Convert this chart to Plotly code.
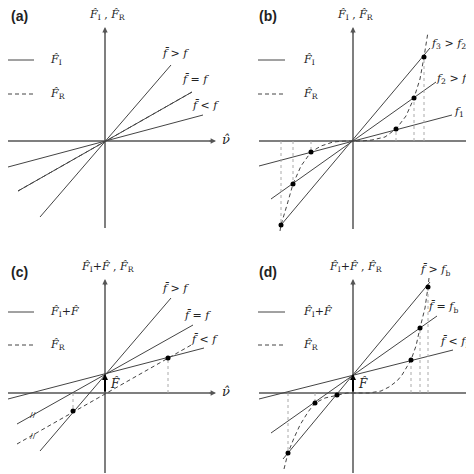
import plotly.graph_objects as go
from plotly.subplots import make_subplots

# all values in panel units (1 unit ~ 1 px), origin at axes crossing
# panel (a)
a_lines_x = [[-65, 66], [-87, 87], [-97, 98]]
a_lines_y = [[-76, 76], [-50, 49], [-26, 26]]
a_dash_x = [-87, 87]
a_dash_y = [-50, 49]
a_labels = ["<i>f̄</i> > <i>f</i>", "<i>f̄</i> = <i>f</i>", "<i>f̄</i> < <i>f</i>"]
a_label_x = [70, 90, 100]
a_label_y = [88, 62, 36]

# panel (b)
b_lines_x = [[-72, 77], [-82, 83], [-94, 99]]
b_lines_y = [[-84, 93], [-58, 59], [-25, 26]]
b_curve_x = [-73, -72, -66, -60, -52, -42, -32, -20, -8, 0, 8, 19, 32, 43, 53, 61, 67, 71, 75]
b_curve_y = [-90, -84, -64, -43, -25, -11, -5, -1, 0, 0, 0, 1, 4, 12, 25, 43, 62, 84, 109]
b_dot_x = [43, 61, 71, -42, -60, -72]
b_dot_y = [12, 43, 84, -11, -43, -84]
b_labels = ["<i>f</i><sub>3</sub> > <i>f</i><sub>2</sub>", "<i>f</i><sub>2</sub> > <i>f</i><sub>1</sub>", "<i>f</i><sub>1</sub>"]
b_label_x = [95, 100, 106]
b_label_y = [97, 62, 29]

# panel (c)
F_hat = 19
c_lines_x = [[-65, 66], [-88, 88], [-97, 99]]
c_lines_y = [[-58, 95], [-31, 68], [-6, 45]]
c_dash_x = [-88, 88]
c_dash_y = [-51, 49]
c_dot_x = [63, -32]
c_dot_y = [35, -18]
c_labels = a_labels
c_label_x = [70, 92, 99]
c_label_y = [105, 78, 54]

# panel (d)
d_lines_x = [[-70, 77], [-82, 84], [-94, 100]]
d_lines_y = [[-66, 111], [-40, 77], [-6, 43]]
d_curve_x = [-69, -65, -59, -53, -45, -38, -28, -16, -6, 0, 6, 16, 28, 36, 44, 49, 58, 63, 67, 72, 75, 76]
d_curve_y = [-76, -60, -45, -32, -19, -10, -5, -2, 0, 0, 0, 0, 2, 6, 12, 18, 33, 47, 65, 85, 106, 115]
d_dot_x = [58, 67, 75, -16, -38, -65]
d_dot_y = [33, 65, 106, -2, -10, -60]
d_labels = ["<i>f̄</i> > <i>f</i><sub>b</sub>", "<i>f̄</i> = <i>f</i><sub>b</sub>", "<i>f̄</i> < <i>f</i><sub>b</sub>"]
d_label_x = [82, 90, 102]
d_label_y = [123, 86, 51]

panel_names = ["(a)", "(b)", "(c)", "(d)"]
y_titles = ["<i>F̂</i><sub>I</sub> , <i>F̂</i><sub>R</sub>", "<i>F̂</i><sub>I</sub> , <i>F̂</i><sub>R</sub>",
            "<i>F̂</i><sub>I</sub>+<i>F̂</i> , <i>F̂</i><sub>R</sub>", "<i>F̂</i><sub>I</sub>+<i>F̂</i> , <i>F̂</i><sub>R</sub>"]
leg_solid = ["<i>F̂</i><sub>I</sub>", "<i>F̂</i><sub>I</sub>", "<i>F̂</i><sub>I</sub>+<i>F̂</i>", "<i>F̂</i><sub>I</sub>+<i>F̂</i>"]
leg_dash = "<i>F̂</i><sub>R</sub>"

# axis ranges (px) and axis extents per panel
x_ranges = [[-97, 140], [-108, 129], [-97, 140], [-108, 129]]
y_ranges = [[-104, 133], [-104, 133], [-89, 148], [-89, 148]]
ax_x = [[-97, 107], [-94, 125], [-97, 107], [-94, 125]]
ax_y = [[-87, 110], [-88, 110], [-80, 110], [-80, 110]]
leg_y = [[81, 47], [81, 47], [81, 48], [81, 48]]

LC = "#444"
SERIF = "DejaVu Serif"
DASH = "4px,3px"

fig = make_subplots(rows=2, cols=2, horizontal_spacing=0, vertical_spacing=0)
pos = [(1, 1), (1, 2), (2, 1), (2, 2)]


def line(x, y, r, c, dash="solid", color=LC, width=1):
    fig.add_trace(go.Scatter(x=x, y=y, mode="lines", line=dict(color=color, width=width, dash=dash),
                             showlegend=False, hoverinfo="skip"), row=r, col=c)


def dots(x, y, r, c):
    for xi, yi in zip(x, y):
        line([xi, xi], [0, yi], r, c, dash="dot", color="#aaa", width=1)
    fig.add_trace(go.Scatter(x=x, y=y, mode="markers", marker=dict(color="black", size=5),
                             showlegend=False, hoverinfo="skip"), row=r, col=c)


def text(t, x, y, i, size=11, xanchor="left", font=SERIF):
    n = "" if i == 0 else str(i + 1)
    fig.add_annotation(text=t, x=x, y=y, xref="x" + n, yref="y" + n, showarrow=False,
                       xanchor=xanchor, font=dict(family=font, size=size, color="#222"))


for i, (r, c) in enumerate(pos):
    n = "" if i == 0 else str(i + 1)
    # axes with arrows
    line(ax_x[i], [0, 0], r, c, color="#555", width=1.5)
    line([0, 0], ax_y[i], r, c, color="#555", width=1.5)
    fig.add_annotation(x=ax_x[i][1] + 4, y=0, ax=ax_x[i][1] - 4, ay=0, xref="x" + n, yref="y" + n,
                       axref="x" + n, ayref="y" + n, showarrow=True, arrowhead=2, arrowsize=0.9,
                       arrowwidth=1.2, arrowcolor="#555", text="")
    fig.add_annotation(x=0, y=ax_y[i][1] + 4, ax=0, ay=ax_y[i][1] - 4, xref="x" + n, yref="y" + n,
                       axref="x" + n, ayref="y" + n, showarrow=True, arrowhead=2, arrowsize=0.9,
                       arrowwidth=1.2, arrowcolor="#555", text="")
    text(y_titles[i], 2, ax_y[i][1] + 16, i, xanchor="center")
    text("<i>ν̂</i>", ax_x[i][1] + 8, 2, i, size=13)
    # legend
    x0 = x_ranges[i][0]
    seg = [x0, x0 + 26] if i % 2 == 0 else [x0 + 13, x0 + 40]
    line(seg, [leg_y[i][0]] * 2, r, c)
    line(seg, [leg_y[i][1]] * 2, r, c, dash=DASH)
    lx = x0 + 40 if i % 2 == 0 else x0 + 56
    text(leg_solid[i], lx, leg_y[i][0], i)
    text(leg_dash, lx, leg_y[i][1], i)
    # panel label
    text("<b>" + panel_names[i] + "</b>", x0 + (1 if i % 2 == 0 else 12), y_ranges[i][1] - (8 if i < 2 else 27), i,
         size=14, font="Liberation Sans")

# (a)
for x, y in zip(a_lines_x, a_lines_y):
    line(x, y, 1, 1)
line(a_dash_x, a_dash_y, 1, 1, dash=DASH)
for t, x, y in zip(a_labels, a_label_x, a_label_y):
    text(t, x, y, 0, xanchor="center")

# (b)
for x, y in zip(b_lines_x, b_lines_y):
    line(x, y, 1, 2)
line(b_curve_x, b_curve_y, 1, 2, dash=DASH)
dots(b_dot_x, b_dot_y, 1, 2)
for t, x, y in zip(b_labels, b_label_x, b_label_y):
    text(t, x, y, 1, xanchor="center")

# (c)
for x, y in zip(c_lines_x, c_lines_y):
    line(x, y, 2, 1)
line(c_dash_x, c_dash_y, 2, 1, dash=DASH)
dots(c_dot_x, c_dot_y, 2, 1)
for t, x, y in zip(c_labels, c_label_x, c_label_y):
    text(t, x, y, 2, xanchor="center")

# (d)
for x, y in zip(d_lines_x, d_lines_y):
    line(x, y, 2, 2)
line(d_curve_x, d_curve_y, 2, 2, dash=DASH)
dots(d_dot_x, d_dot_y, 2, 2)
for t, x, y in zip(d_labels, d_label_x, d_label_y):
    text(t, x, y, 3, xanchor="center")

# F-hat offset arrows in (c) and (d)
for i in (2, 3):
    n = str(i + 1)
    fig.add_annotation(x=0, y=F_hat, ax=0, ay=0, xref="x" + n, yref="y" + n, axref="x" + n, ayref="y" + n,
                       showarrow=True, arrowhead=2, arrowsize=0.6, arrowwidth=2, arrowcolor="black", text="")
    text("<i>F̂</i>", 3, 10, i, size=12)

# parallel marks in (c)
text("//", -72, -21, 2, size=8, xanchor="center")
text("//", -72, -42, 2, size=8, xanchor="center")

for i in range(4):
    r, c = pos[i]
    fig.update_xaxes(range=x_ranges[i], visible=False, row=r, col=c)
    fig.update_yaxes(range=y_ranges[i], visible=False, row=r, col=c)

fig.update_layout(width=474, height=474, margin=dict(l=0, r=0, t=0, b=0),
                  plot_bgcolor="white", paper_bgcolor="white", showlegend=False)
fig.write_html("out.html")
